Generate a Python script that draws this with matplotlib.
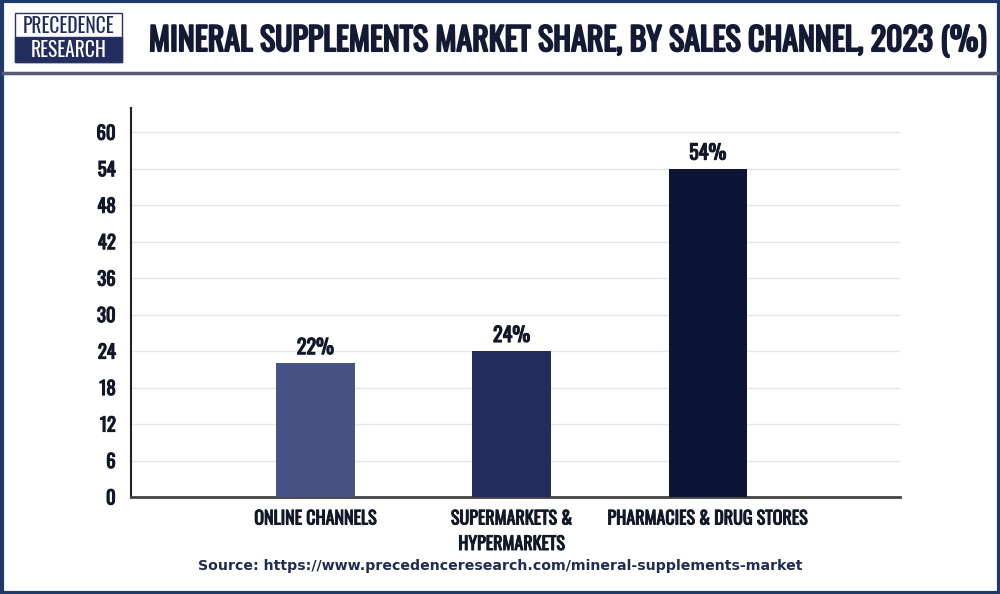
import matplotlib.pyplot as plt
import matplotlib.patheffects as pe
from matplotlib.patches import Rectangle
from matplotlib.lines import Line2D

channels = ["ONLINE CHANNELS", "SUPERMARKETS &\nHYPERMARKETS", "PHARMACIES & DRUG STORES"]
share = [22, 24, 54]
colors = ["#475285", "#232c5e", "#0c1535"]
yticks = [0, 6, 12, 18, 24, 30, 36, 42, 48, 54, 60]

narrow = ["Oswald", "Roboto Condensed", "Liberation Sans Narrow", "DejaVu Sans"]
txt = "#111827"


def bold(c, w=0.8):
    # the condensed face has one weight here, so thicken it with a stroke
    return [pe.withStroke(linewidth=w, foreground=c)]


fig = plt.figure(figsize=(10, 5.94), dpi=100)
ax = fig.add_axes([0.131, 0.1633, 0.769, 0.655])

x = range(len(channels))
ax.bar(x, share, width=0.40, color=colors, zorder=3)
for i, v in enumerate(share):
    ax.text(i, v + 1.0, f"{v}%", ha="center", va="bottom", fontsize=14.5,
            family=narrow, color=txt, path_effects=bold(txt))

ax.set_xlim(-0.94, 2.98)
ax.set_ylim(0, 64)
ax.set_yticks(yticks)
ax.set_xticks(list(x))
ax.set_xticklabels(channels, fontsize=13, family=narrow, color=txt,
                   linespacing=1.5, va="top")
for lab in ax.get_xticklabels():
    lab.set_path_effects(bold(txt, 0.7))
for lab in ax.get_yticklabels():
    lab.set_family(narrow)
    lab.set_fontsize(13.5)
    lab.set_color(txt)
    lab.set_path_effects(bold(txt))
ax.tick_params(axis="y", length=0, pad=11)
ax.tick_params(axis="x", length=0, pad=9)
ax.yaxis.grid(True, color="#e6e6e6", linewidth=1, zorder=0)
for s in ["top", "right"]:
    ax.spines[s].set_visible(False)
ax.spines["left"].set_color("#222222")
ax.spines["left"].set_linewidth(1.5)
ax.spines["bottom"].set_color("#444444")
ax.spines["bottom"].set_linewidth(2)

# header
title = fig.text(0.5665, 0.930, "MINERAL SUPPLEMENTS MARKET SHARE, BY SALES CHANNEL, 2023 (%)",
                 ha="center", va="center", fontsize=24.5, family=narrow,
                 color="#141a33", path_effects=bold("#141a33", 1.4))
fig.add_artist(Line2D([0.003, 0.997], [0.877, 0.877], color="#555a75", linewidth=2.5))
fig.add_artist(Rectangle((0.015, 0.896), 0.107, 0.082, facecolor="white",
                         edgecolor="#2a3264", linewidth=1))
fig.add_artist(Rectangle((0.015, 0.896), 0.107, 0.041, facecolor="#232c5e",
                         edgecolor="#2a3264", linewidth=1))
logo1 = fig.text(0.0685, 0.957, "PRECEDENCE", ha="center", va="center", fontsize=14,
                 family=narrow, color="#232c5e")
logo2 = fig.text(0.0685, 0.915, "RESEARCH", ha="center", va="center", fontsize=14,
                 family=narrow, color="white")

fig.text(0.5, 0.047, "Source: https://www.precedenceresearch.com/mineral-supplements-market",
         ha="center", va="center", fontsize=10.2, fontweight="bold", color="#1f2d50")

fig.add_artist(Rectangle((0.0015, 0.0025), 0.997, 0.995, facecolor="none",
                         edgecolor="#1f3a68", linewidth=3))

# keep header texts within their boxes whatever font was found
r = fig.canvas.get_renderer()
for t, w in [(title, 837), (logo1, 100), (logo2, 96)]:
    cur = t.get_window_extent(r).width
    if cur > w:
        t.set_fontsize(t.get_fontsize() * w / cur)

fig.savefig("out.png", dpi=100)
